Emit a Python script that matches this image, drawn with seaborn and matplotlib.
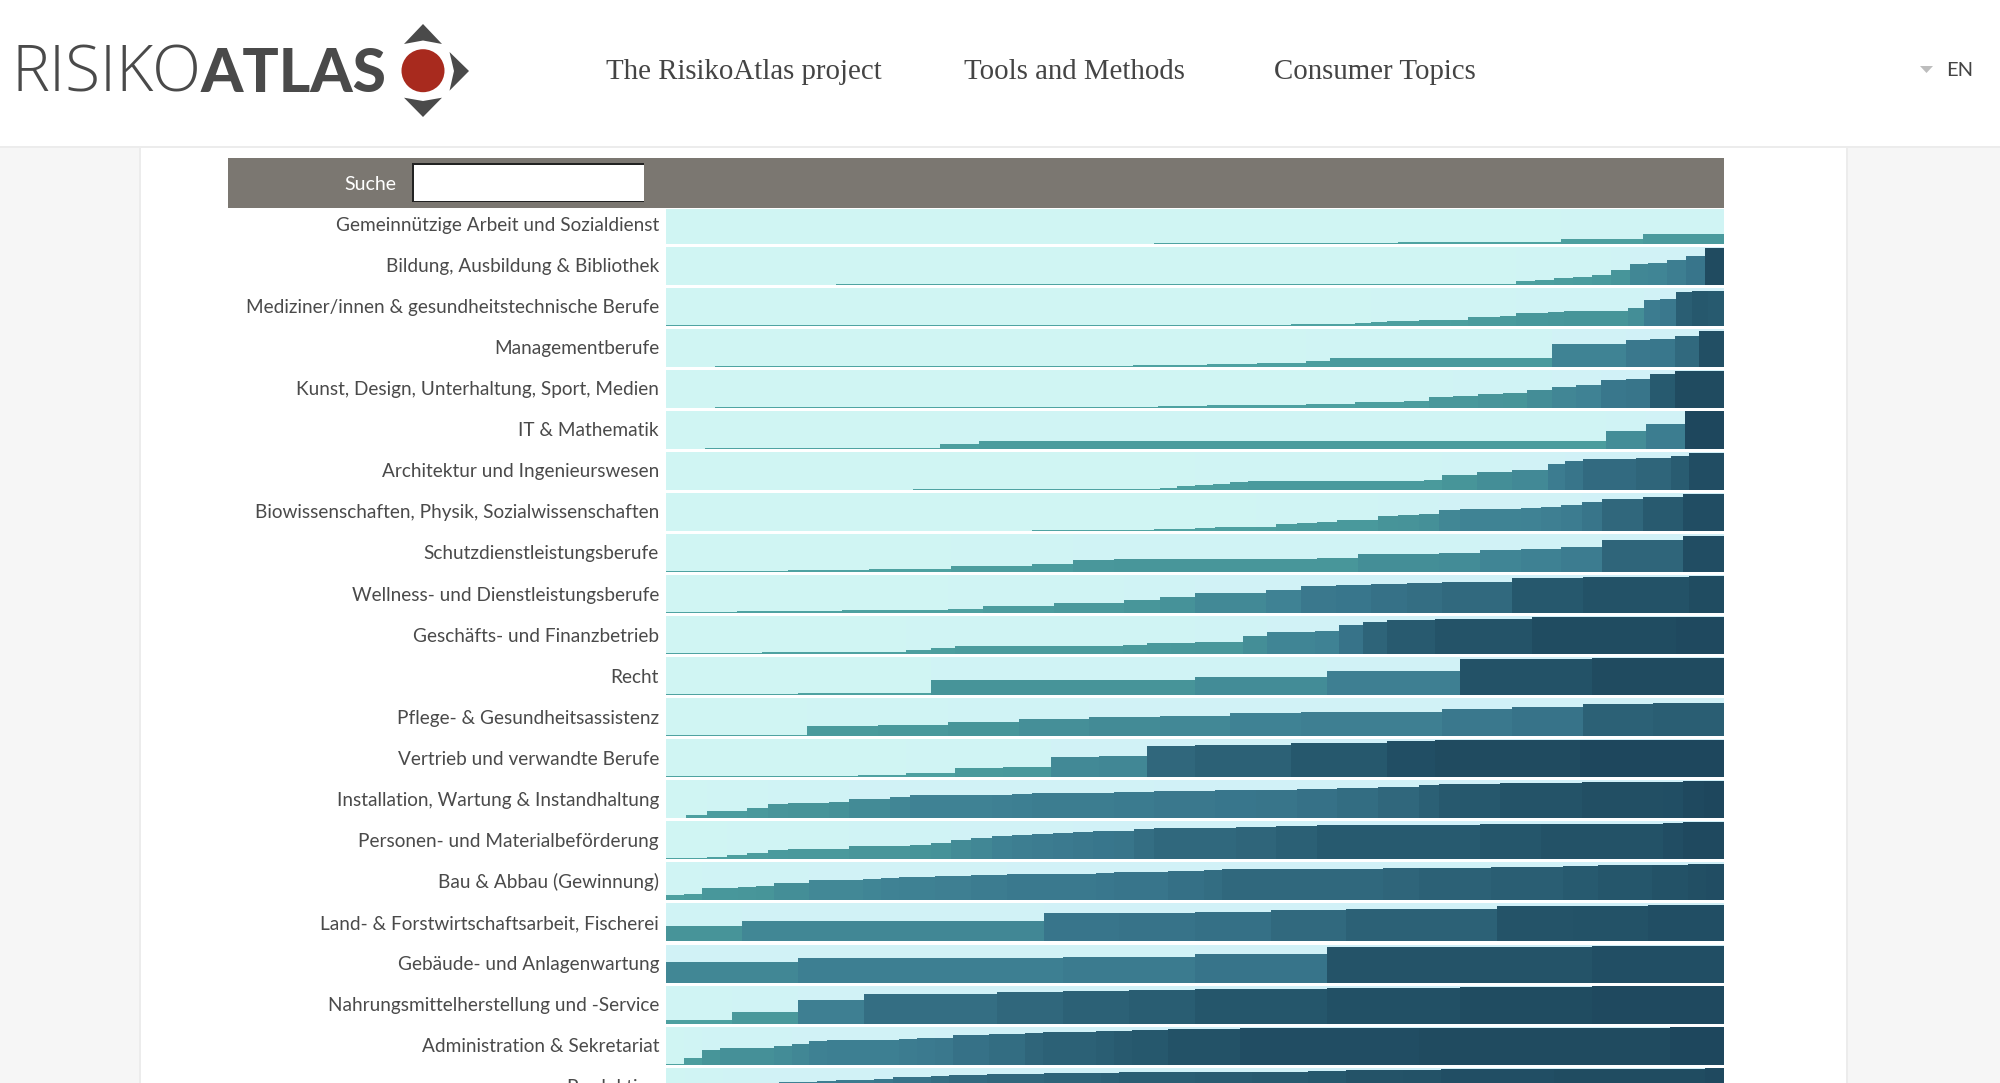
import matplotlib
matplotlib.use("Agg")
import matplotlib.pyplot as plt
import pandas as pd
import seaborn as sns
from matplotlib.colors import LinearSegmentedColormap
from matplotlib.patches import Ellipse, Polygon, Rectangle

labels = [
    "Gemeinnützige Arbeit und Sozialdienst",
    "Bildung, Ausbildung & Bibliothek",
    "Mediziner/innen & gesundheitstechnische Berufe",
    "Managementberufe",
    "Kunst, Design, Unterhaltung, Sport, Medien",
    "IT & Mathematik",
    "Architektur und Ingenieurswesen",
    "Biowissenschaften, Physik, Sozialwissenschaften",
    "Schutzdienstleistungsberufe",
    "Wellness- und Dienstleistungsberufe",
    "Geschäfts- und Finanzbetrieb",
    "Recht",
    "Pflege- & Gesundheitsassistenz",
    "Vertrieb und verwandte Berufe",
    "Installation, Wartung & Instandhaltung",
    "Personen- und Materialbeförderung",
    "Bau & Abbau (Gewinnung)",
    "Land- & Forstwirtschaftsarbeit, Fischerei",
    "Gebäude- und Anlagenwartung",
    "Nahrungsmittelherstellung und -Service",
    "Administration & Sekretariat",
    "Produktion",
]

# share of jobs at risk per occupation group, one value per job, sorted ascending
gemeinnuetzig = [0, 0, 0, 0, 0, 0, 2, 2, 2, 3.5, 3.5, 12, 24.5]
bildung = [0, 0, 0, 0, 0, 0, 0, 0, 0,
           1.3, 1.3, 1.3, 1.3, 1.3, 1.3, 1.3, 1.3, 1.3, 1.3, 1.3, 1.3, 1.3, 1.3, 1.3, 1.3, 1.3, 1.3,
           1.3, 1.3, 1.3, 1.3, 1.3, 1.3, 1.3, 1.3, 1.3, 1.3, 1.3, 1.3, 1.3, 1.3, 1.3, 1.3, 1.3, 1.3,
           10.5, 13, 16.7, 19, 24.5, 37.7, 55, 57, 65, 74.5, 97]
mediziner = [1, 1, 1, 1, 1, 1, 1, 1, 1, 1, 1, 1, 1, 1, 1, 1, 1, 1, 1, 1, 1, 1, 1, 1, 1, 1, 1, 1, 1, 1, 1,
             2.5, 2.5, 2.5, 2.5, 2.5, 2.5, 2.5, 2.5, 4, 4, 4, 4, 7, 10.5, 12, 12, 14, 14, 16, 22, 22, 25,
             32.5, 32.5, 35, 38.6, 38.6, 38.6, 38.6, 46.5, 67.5, 71, 88, 91, 90]
management = [0, 0, 1.5, 1.5, 1.5, 1.5, 1.5, 1.5, 1.5, 1.5, 1.5, 1.5, 1.5, 1.5, 1.5,
              2.5, 2.5, 2.5, 2.5, 4.4, 4.4, 4.4, 7, 7, 9, 9, 16,
              24, 24, 24, 24, 24, 24, 24, 24, 24, 59, 59, 59, 71, 73, 82, 95]
kunst = [0, 0, 1.5, 1.5, 1.5, 1.5, 1.5, 1.5, 1.5, 1.5, 1.5, 1.5, 1.5, 1.5, 1.5,
         2.6, 2.6, 2.6, 2.6, 2.6, 5, 5, 7, 7, 7, 7, 10, 11, 14, 14, 17.5, 29, 31, 37, 38.6, 48, 56, 60,
         73, 75, 90, 97, 97]
it_mathe = [0, 2, 2, 2, 2.6, 2.6, 2.6, 13, 21, 21, 21, 21, 21, 21, 21, 21, 21, 21, 21, 21, 21, 21, 21, 21,
            48, 66, 99]
architektur = [0, 0, 0, 0, 0, 0, 0, 0, 0, 0, 0, 0, 0, 0,
               1.7, 1.7, 1.7, 1.7, 1.7, 1.7, 1.7, 1.7, 1.7, 1.7, 1.7, 1.7, 2.6, 2.6, 5, 10, 13, 15, 20,
               24, 24, 24, 24, 24, 24, 24, 24, 24, 24, 25, 38, 38, 47, 47, 52, 52, 67, 75, 81, 81, 81,
               84, 84, 89, 96, 96]
biowissenschaften = [0, 0, 0, 0, 0, 0, 0, 0, 0, 0, 0, 0, 0, 0, 0, 0, 0, 0,
                     1.7, 1.7, 1.7, 1.7, 2.6, 2.6, 4.4, 4.4, 7, 10, 10, 11.4, 18, 22, 24.6, 28, 28, 39.5,
                     41, 44, 55, 59, 59, 59, 60.5, 63, 67.5, 75, 83, 83, 89.5, 89.5, 96, 96]
schutzdienst = [1.7, 1.7, 1.7, 4.4, 6, 8.8, 8.8, 17, 17, 20, 32, 34, 34, 34, 34, 34, 36, 47, 47, 49, 57, 61,
                67, 84, 84, 96]
wellness = [1.7, 1.7, 4.4, 6, 6, 8, 8, 8, 10.5, 19, 19, 27, 27, 35, 42, 52.6, 52.6, 60.5, 71, 74, 77, 79,
            82, 82, 91, 91, 94, 94, 94, 96.5]
geschaefte = [1.7, 1.7, 2.6, 2.6, 6, 6, 6, 6, 6, 6, 12, 16, 22, 22, 22, 22, 22, 22, 22, 25, 28, 30, 32, 32,
              47, 57, 57, 60.5, 76, 85, 89.5, 89.5, 93, 93, 93, 93, 96.5, 96.5, 96.5, 96.5, 96.5, 96.5, 98, 98]
recht = [2.6, 5, 39.5, 39.5, 49, 63, 94, 97]
pflege = [2.6, 2.6, 26, 29, 38, 46, 50, 53.5, 60, 63, 63, 71, 76, 86, 88]
vertrieb = [2.6, 2.6, 2.6, 2.6, 7, 10.5, 25, 28, 52, 55, 83, 86, 86, 91, 91, 95.6, 97, 97, 97, 99, 99, 99]
installation = [0, 9.6, 19, 19, 27, 37, 40, 40, 43, 50, 50, 56, 60.5, 60.5, 60.5, 60.5, 62, 64, 66, 66, 66, 66,
                68, 68, 71, 71, 71, 74, 74, 75, 75, 77, 77, 80, 80, 83, 83, 87, 90.6, 91, 91, 93, 93, 93, 93,
                95, 95, 95, 95, 95.6, 98, 99]
personen = [3.5, 3.5, 7, 11.4, 16.7, 24.6, 27, 27, 27, 34, 36, 36, 39, 42, 50, 55, 61, 65, 67.5, 69, 71, 74, 75,
            79, 82.5, 82.5, 82.5, 82.5, 84, 84, 87, 87, 90, 90, 90, 90, 90, 90, 90, 90, 92, 92, 92,
            94, 94, 94, 94, 94, 94, 96, 98, 98]
bau = [14, 16.7, 33, 33, 35, 38, 46.5, 46.5, 53.5, 53.5, 53.5, 57, 60, 61, 61, 63, 63, 66.7, 66.7,
       70, 70, 70, 70, 70, 72, 74.6, 74.6, 74.6, 78, 78, 80, 82.5, 82.5, 82.5, 82.5, 82.5, 82.5, 82.5, 82.5, 82.5,
       84, 84, 86, 86, 86, 86, 88, 88, 88, 88, 90, 90, 92, 92, 92, 94, 94, 95, 96]
land = [40, 55, 55, 55, 55, 74.6, 76, 78, 82, 86, 86, 93, 94, 95.6]
gebaeude = [54, 64, 64, 68, 75.4, 93, 93, 95.6]
nahrung = [10.5, 30.7, 63, 79, 79, 83, 86, 88.6, 92, 92, 94.7, 94.7, 96.5, 96.5, 98, 98]
administration = [2.6, 16.7, 38.6, 44.7, 44.7, 44.7, 49, 54, 61, 64, 64, 64, 64, 67, 69, 71, 77, 77, 80, 80,
                  84, 86, 86, 86, 88, 89.5, 91, 91, 94, 94, 94, 94, 96, 96, 96, 96, 96, 96, 96, 96, 96, 96,
                  97, 97, 97, 97, 97, 97, 97, 97, 97, 97, 97, 97, 97, 97, 99, 99, 99]
produktion = [5, 15, 28, 40, 48, 55, 61, 61, 65, 68, 68, 71, 76, 76, 79, 81, 81, 83, 83, 83, 85, 85, 85, 86,
              88, 88, 88, 88, 89, 89, 89, 89.5, 89.5, 89.5, 91, 91, 93, 93, 93, 94, 94,
              95.6, 95.6, 95.6, 95.6, 95.6, 95.6, 96.5, 96.5, 96.5, 96.5, 96.5, 96.5, 96.5, 96.5, 98]

rows = [gemeinnuetzig, bildung, mediziner, management, kunst, it_mathe, architektur, biowissenschaften,
        schutzdienst, wellness, geschaefte, recht, pflege, vertrieb, installation, personen, bau, land,
        gebaeude, nahrung, administration, produktion]

nav_items = ["The RisikoAtlas project", "Tools and Methods", "Consumer Topics"]

bar_cmap = LinearSegmentedColormap.from_list("risk", [
    (0.0, "#4fa4a2"), (0.4, "#479499"), (0.6, "#3f8294"), (0.75, "#38758b"),
    (0.85, "#2e6479"), (0.92, "#25566b"), (1.0, "#1d455b")])
bg_cmap = LinearSegmentedColormap.from_list("riskbg", ["#d0f5f3", "#d1f0f8"])

W, H = 2000, 1083
PLOT_LEFT, PLOT_RIGHT = 666, 1724
ROW_H = 38
FIRST_BASE = 243.6
ROW_STEP = 41.05

sns.set_theme(style="white")
plt.rcParams["font.family"] = ["Lato", "DejaVu Sans"]

fig = plt.figure(figsize=(W / 100, H / 100), dpi=100)

# page furniture in pixel coordinates
page = fig.add_axes([0, 0, 1, 1], zorder=0)
page.set_xlim(0, W)
page.set_ylim(H, 0)
page.axis("off")
page.add_patch(Rectangle((0, 148), 140, H, color="#f6f6f6", lw=0))
page.add_patch(Rectangle((1847, 148), 153, H, color="#f6f6f6", lw=0))
page.add_patch(Rectangle((139, 148), 1.5, H, color="#ececec", lw=0))
page.add_patch(Rectangle((1846, 148), 1.5, H, color="#ececec", lw=0))
page.add_patch(Rectangle((0, 146), W, 2, color="#ececec", lw=0))

# logo
page.text(12, 92, "RISIKO", fontsize=46, family="Open Sans", fontweight="light", color="#4a4a4a", va="baseline")
page.text(201, 92, "ATLAS", fontsize=43.5, fontweight="black", color="#4a4a4a", va="baseline")
page.add_patch(Ellipse((423, 70.7), 43, 43, color="#a82a1e", lw=0))
page.add_patch(Polygon([(423, 24), (442, 44), (423, 40.5), (404, 44)], color="#4a4a4a", lw=0))
page.add_patch(Polygon([(423, 117), (442, 97.7), (423, 101), (404, 97.7)], color="#4a4a4a", lw=0))
page.add_patch(Polygon([(469, 71), (449.5, 90.7), (454, 71), (449.5, 52)], color="#4a4a4a", lw=0))

# nav
for item, x in zip(nav_items, [606, 964, 1274]):
    page.text(x, 72, item, fontsize=20.8, family="Liberation Serif", color="#444444", va="center", ha="left")
page.text(1946, 70, "EN", fontsize=14.5, color="#444444", va="center", ha="left")
page.add_patch(Polygon([(1920, 66), (1933, 66), (1926.5, 73)], color="#bdbdbd", lw=0))

# search bar
page.add_patch(Rectangle((228, 158), 1496, 49.5, color="#7b7771", lw=0))
page.add_patch(Rectangle((412, 162.5), 232, 39, color="#222222", lw=0))
page.add_patch(Rectangle((414, 164.5), 230, 36.5, color="white", lw=0))
page.text(396, 184, "Suche", fontsize=14, color="white", va="center", ha="right")

for i, (label, values) in enumerate(zip(labels, rows)):
    base = FIRST_BASE + ROW_STEP * i
    # first row is cut off by the search bar
    row_h = 34.6 if i == 0 else ROW_H
    ax = fig.add_axes([PLOT_LEFT / W, 1 - base / H, (PLOT_RIGHT - PLOT_LEFT) / W, row_h / H], zorder=1)
    df = pd.DataFrame({"job": range(len(values)), "value": values, "full": [100] * len(values)})
    sns.barplot(data=df, x="job", y="full", hue="job", legend=False, width=1, dodge=False, saturation=1,
                palette={j: bg_cmap(v / 100) for j, v in zip(df["job"], df["value"])}, linewidth=0, ax=ax)
    sns.barplot(data=df, x="job", y="value", hue="job", legend=False, width=1, dodge=False, saturation=1,
                palette={j: bar_cmap(v / 100) for j, v in zip(df["job"], df["value"])}, linewidth=0, ax=ax)
    ax.set_xlim(-0.5, len(values) - 0.5)
    ax.set_ylim(0, 100 * row_h / ROW_H)
    ax.axis("off")
    page.text(659, base - 18, label, fontsize=13.7, color="#4a4a4a", va="center", ha="right")

fig.savefig("out.png", dpi=100)
